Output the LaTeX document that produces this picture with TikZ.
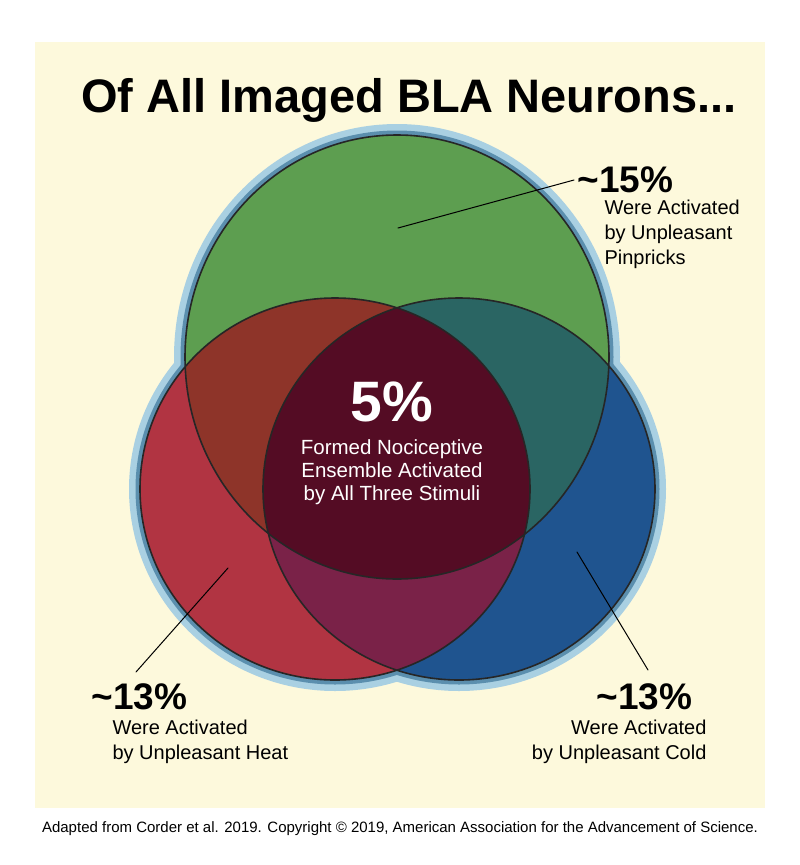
\documentclass[tikz,border=0pt]{standalone}
\usepackage{fontspec}
\setmainfont{Liberation Sans}
\usetikzlibrary{positioning}
\definecolor{cream}{HTML}{FDF9DC}
\definecolor{halo}{HTML}{A9D0E2}
\definecolor{rim}{HTML}{5B8FAE}
\definecolor{pinG}{HTML}{5D9E50}
\definecolor{heatR}{HTML}{B13442}
\definecolor{coldB}{HTML}{1F548F}
\definecolor{rg}{HTML}{8E3429}
\definecolor{gb}{HTML}{2A6563}
\definecolor{rb}{HTML}{7A2248}
\definecolor{core}{HTML}{540C24}
\tikzset{
  big/.style={font=\fontsize{37}{37}\selectfont\bfseries},
  small/.style={font=\fontsize{20}{25}\selectfont, align=left},
  leader/.style={black, line width=1pt}
}
\newcommand{\greenE}{(397,357) ellipse (212 and 222)}
\newcommand{\redE}{(335,489) ellipse (195 and 191)}
\newcommand{\blueE}{(459,489) ellipse (196 and 191)}
\begin{document}
\begin{tikzpicture}[x=1pt,y=-1pt, line cap=round, line join=round]
\useasboundingbox (0,0) rectangle (800,865);
\fill[white] (0,0) rectangle (800,865);
\fill[cream] (35,42) rectangle (765,808);

% halo round the union
\foreach \e in {\greenE,\redE,\blueE}
  \draw[halo, line width=22pt] \e;
\foreach \e in {\greenE,\redE,\blueE}
  \draw[rim, line width=9pt] \e;

% plain fills
\fill[pinG] \greenE;
\fill[heatR] \redE;
\fill[coldB] \blueE;

% overlaps
\begin{scope}
  \clip \greenE; \fill[rg] \redE;
\end{scope}
\begin{scope}
  \clip \greenE; \fill[gb] \blueE;
\end{scope}
\begin{scope}
  \clip \redE; \fill[rb] \blueE;
\end{scope}
\begin{scope}
  \clip \greenE; \clip \redE; \fill[core] \blueE;
\end{scope}

% outlines
\draw[black!85, line width=1.6pt] \greenE \redE \blueE;

% title
\node (title) at (409,100) {\fontsize{47}{47}\selectfont\bfseries Of All Imaged BLA Neurons...};

% centre text
\node[white, font=\fontsize{57}{57}\selectfont\bfseries] (core5) at (392,402) {5\%};
\node[white, font=\fontsize{20.5}{23}\selectfont, align=center, below=10pt of core5] (coreTxt)
  {Formed Nociceptive\\Ensemble Activated\\by All Three Stimuli};

% pinprick label
\node[big, anchor=west] (pinPct) at (574,180) {\char`~15\%};
\node[small, anchor=north west] (pinTxt) at (601,196) {Were Activated\\by Unpleasant\\Pinpricks};
\coordinate (pinEnd) at (398,228);
\draw[leader] (pinEnd) -- (pinPct.west);

% heat label
\node[big, anchor=west] (heatPct) at (88,697) {\char`~13\%};
\node[small, anchor=north west] (heatTxt) at (109,716) {Were Activated\\by Unpleasant Heat};
\coordinate (heatEnd) at (228,568);
\draw[leader] (heatEnd) -- (136,672);

% cold label
\node[big, anchor=east] (coldPct) at (696,697) {\char`~13\%};
\node[small, align=right, anchor=north east] (coldTxt) at (710,716) {Were Activated\\by Unpleasant Cold};
\coordinate (coldEnd) at (577,552);
\draw[leader] (coldEnd) -- (648,670);

% caption
\node[font=\fontsize{15}{15}\selectfont] (credit) at (400,829)
  {Adapted from Corder et al. 2019. Copyright © 2019, American Association for the Advancement of Science.};
\end{tikzpicture}
\end{document}
